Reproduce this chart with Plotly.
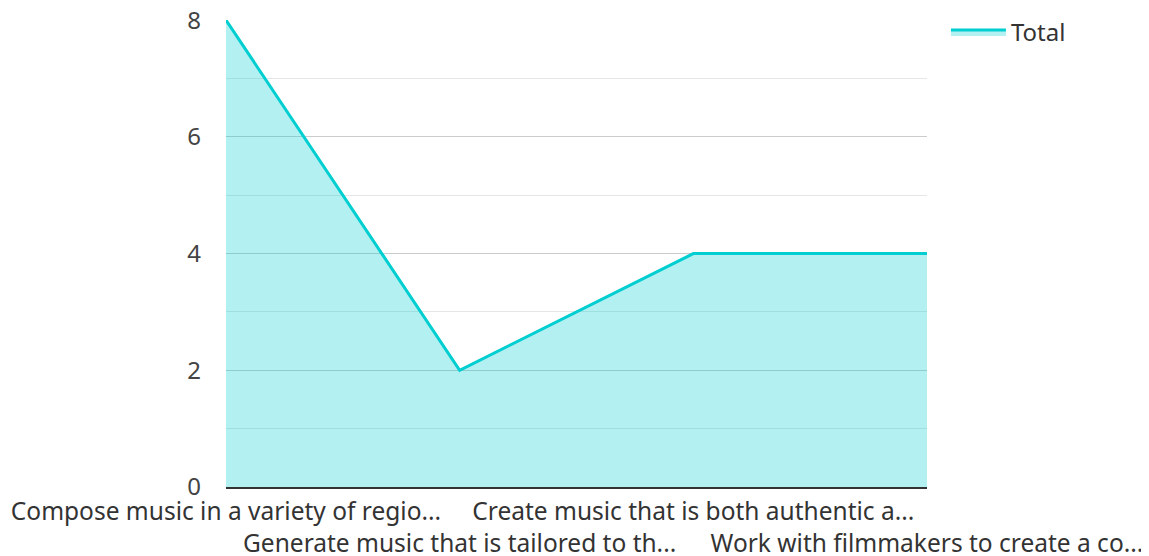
import plotly.graph_objects as go

categories = [
    "Compose music in a variety of regio...",
    "Generate music that is tailored to th...",
    "Create music that is both authentic a...",
    "Work with filmmakers to create a co...",
]
values = [8, 2, 4, 4]
series_name = "Total"

x_idx = list(range(len(categories)))
tick_text = [c if i % 2 == 0 else "<br>" + c for i, c in enumerate(categories)]

fig = go.Figure()
fig.add_trace(go.Scatter(
    x=x_idx, y=values, name=series_name, mode="lines",
    line=dict(color="#00CED1", width=3),
    fill="tozeroy", fillcolor="rgba(0,206,209,0.3)",
    showlegend=True,
))

fig.update_layout(
    width=1149, height=556,
    margin=dict(l=218, r=230, t=12, b=77, autoexpand=False),
    paper_bgcolor="white", plot_bgcolor="white",
    font=dict(family="Noto Sans, Open Sans, sans-serif", size=24, color="#333"),
    showlegend=True,
    legend=dict(x=1.027, y=1.0214, xanchor="left", yanchor="top",
                itemwidth=55,
                font=dict(size=24, color="#333"), bgcolor="rgba(0,0,0,0)"),
    xaxis=dict(
        range=[0, 3], tickvals=x_idx, ticktext=tick_text,
        showgrid=False, zeroline=False, showline=True,
        linecolor="#333", linewidth=2, ticks="",
        tickangle=0, automargin=False, ticklabelstandoff=2,
        ticklabeloverflow="allow",
        tickfont=dict(size=24.5, color="#333"),
    ),
    yaxis=dict(
        range=[0, 8.002], tickvals=[0, 2, 4, 6, 8], showgrid=True,
        gridcolor="#cccccc", gridwidth=1,
        zeroline=False, showline=False, ticks="",
        automargin=False, ticklabelstandoff=24,
        ticklabeloverflow="allow",
        tickfont=dict(size=24, color="#444"),
        minor=dict(dtick=1, showgrid=True, gridcolor="#e6e6e6", gridwidth=1),
    ),
)

fig.write_html("out.html")
